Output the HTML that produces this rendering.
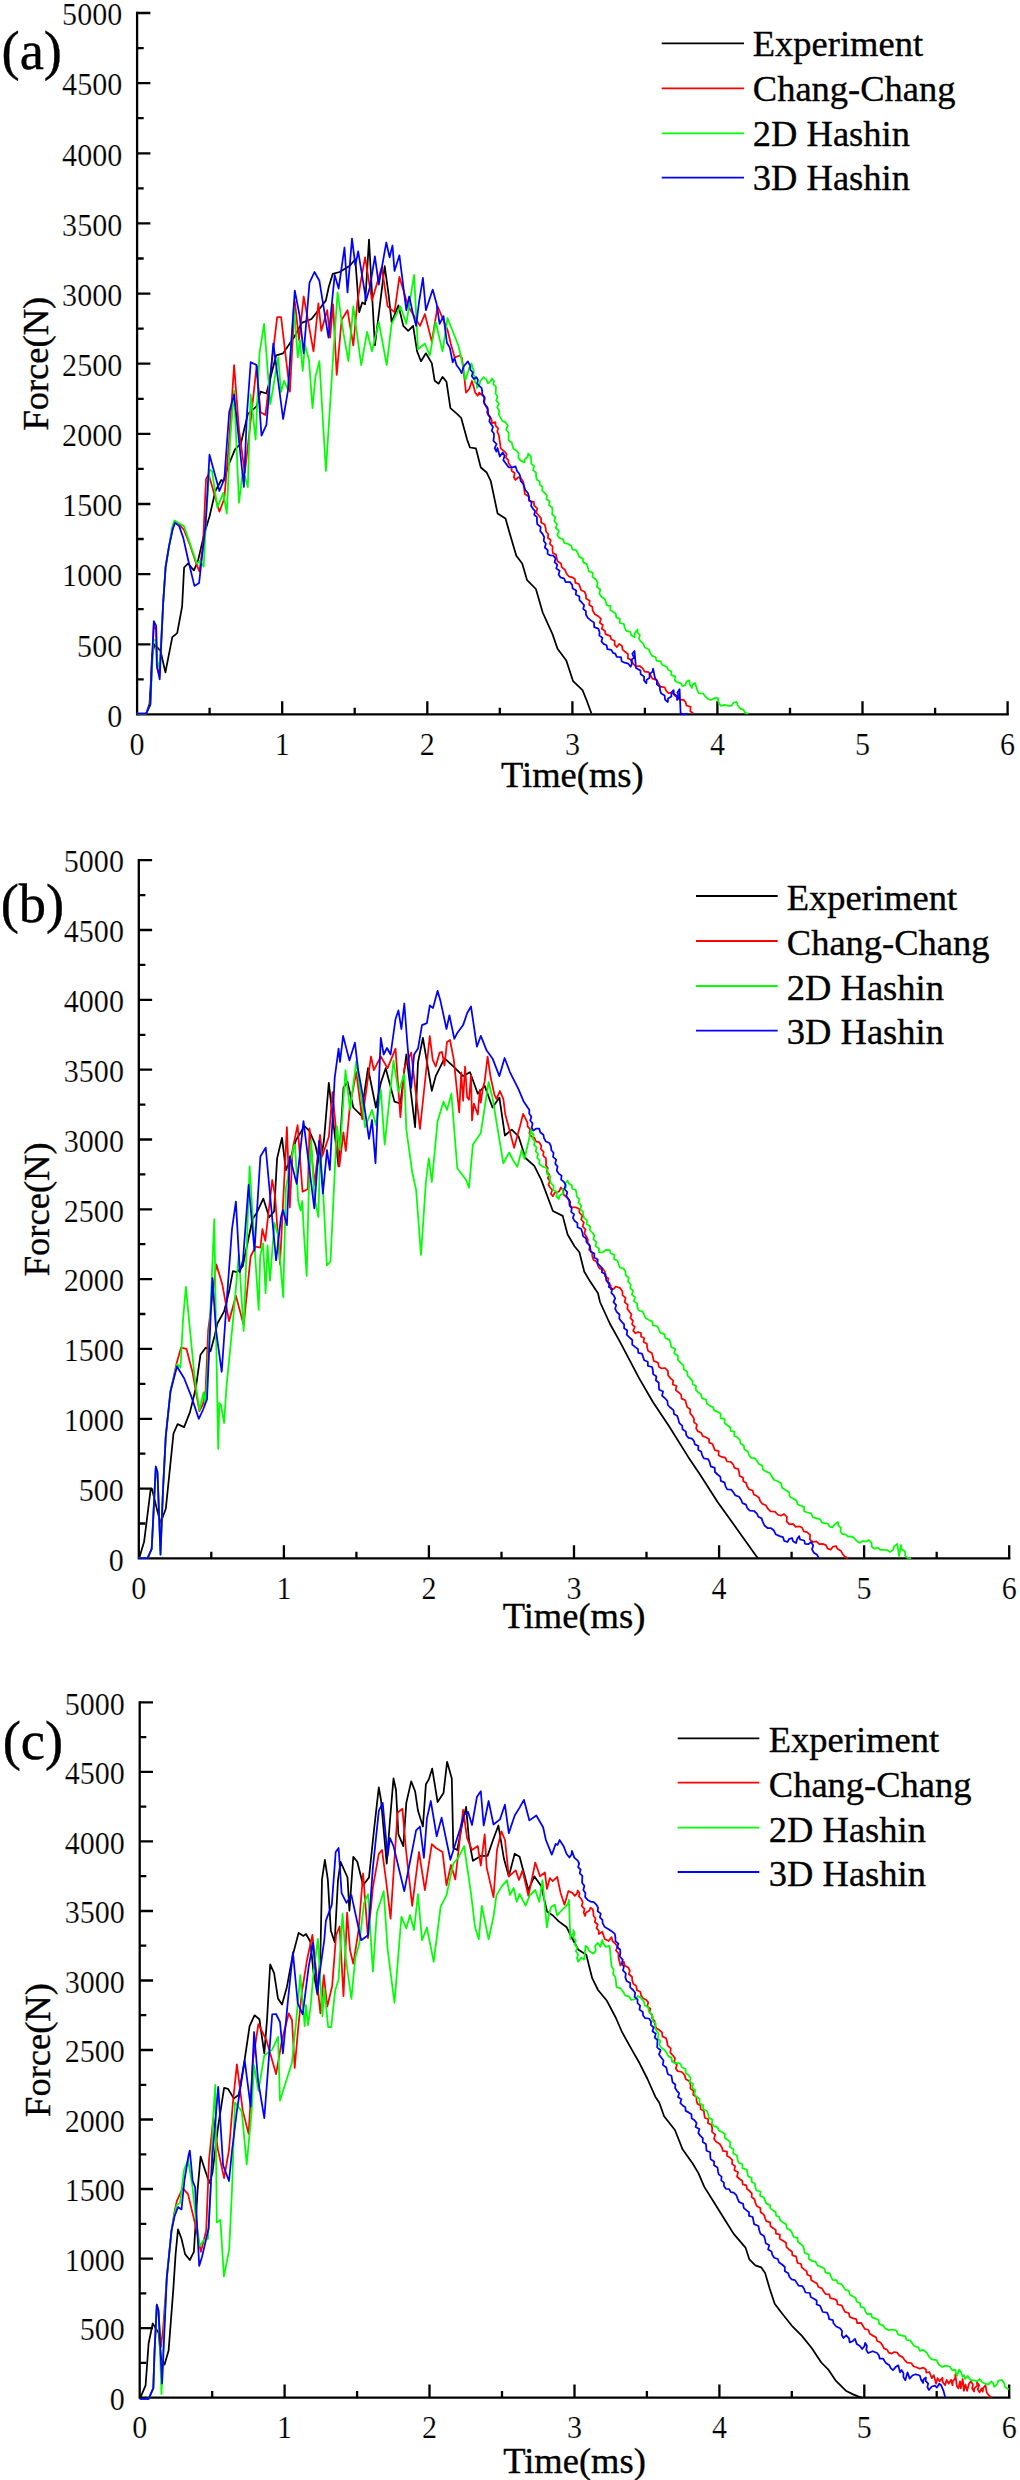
<!DOCTYPE html><html><head><meta charset="utf-8"><style>html,body{margin:0;padding:0;background:#fff;width:1020px;height:2480px;overflow:hidden}svg{display:block}text{font-family:"Liberation Serif", "Times New Roman", serif;fill:#000}</style></head><body>
<svg width="1020" height="2480" viewBox="0 0 1020 2480">
<g><path d="M137.1 11.8 V714.4 H1008.8" fill="none" stroke="#000" stroke-width="2.3" stroke-linejoin="miter" stroke-linecap="butt"/><path d="M137.1 679.3 H143.7 M137.1 644.3 H150.4 M137.1 609.2 H143.7 M137.1 574.1 H150.4 M137.1 539 H143.7 M137.1 504 H150.4 M137.1 468.9 H143.7 M137.1 433.8 H150.4 M137.1 398.8 H143.7 M137.1 363.7 H150.4 M137.1 328.6 H143.7 M137.1 293.6 H150.4 M137.1 258.5 H143.7 M137.1 223.4 H150.4 M137.1 188.4 H143.7 M137.1 153.3 H150.4 M137.1 118.2 H143.7 M137.1 83.1 H150.4 M137.1 48.1 H143.7 M137.1 13 H150.4 M209.6 714.4 V707.8 M282.2 714.4 V701.2 M354.7 714.4 V707.8 M427.3 714.4 V701.2 M499.8 714.4 V707.8 M572.4 714.4 V701.2 M644.9 714.4 V707.8 M717.4 714.4 V701.2 M790 714.4 V707.8 M862.5 714.4 V701.2 M935.1 714.4 V707.8 M1007.6 714.4 V701.2" fill="none" stroke="#000" stroke-width="2.3"/><text transform="translate(122.2 726.6) scale(0.97 1)" font-size="31" text-anchor="end" stroke="#fff" stroke-width="0.2">0</text><text transform="translate(122.2 656.5) scale(0.97 1)" font-size="31" text-anchor="end" stroke="#fff" stroke-width="0.2">500</text><text transform="translate(122.2 586.3) scale(0.97 1)" font-size="31" text-anchor="end" stroke="#fff" stroke-width="0.2">1000</text><text transform="translate(122.2 516.2) scale(0.97 1)" font-size="31" text-anchor="end" stroke="#fff" stroke-width="0.2">1500</text><text transform="translate(122.2 446) scale(0.97 1)" font-size="31" text-anchor="end" stroke="#fff" stroke-width="0.2">2000</text><text transform="translate(122.2 375.9) scale(0.97 1)" font-size="31" text-anchor="end" stroke="#fff" stroke-width="0.2">2500</text><text transform="translate(122.2 305.8) scale(0.97 1)" font-size="31" text-anchor="end" stroke="#fff" stroke-width="0.2">3000</text><text transform="translate(122.2 235.6) scale(0.97 1)" font-size="31" text-anchor="end" stroke="#fff" stroke-width="0.2">3500</text><text transform="translate(122.2 165.5) scale(0.97 1)" font-size="31" text-anchor="end" stroke="#fff" stroke-width="0.2">4000</text><text transform="translate(122.2 95.3) scale(0.97 1)" font-size="31" text-anchor="end" stroke="#fff" stroke-width="0.2">4500</text><text transform="translate(122.2 25.2) scale(0.97 1)" font-size="31" text-anchor="end" stroke="#fff" stroke-width="0.2">5000</text><text transform="translate(137.1 754.5) scale(0.97 1)" font-size="31" text-anchor="middle" stroke="#fff" stroke-width="0.2">0</text><text transform="translate(282.2 754.5) scale(0.97 1)" font-size="31" text-anchor="middle" stroke="#fff" stroke-width="0.2">1</text><text transform="translate(427.3 754.5) scale(0.97 1)" font-size="31" text-anchor="middle" stroke="#fff" stroke-width="0.2">2</text><text transform="translate(572.4 754.5) scale(0.97 1)" font-size="31" text-anchor="middle" stroke="#fff" stroke-width="0.2">3</text><text transform="translate(717.4 754.5) scale(0.97 1)" font-size="31" text-anchor="middle" stroke="#fff" stroke-width="0.2">4</text><text transform="translate(862.5 754.5) scale(0.97 1)" font-size="31" text-anchor="middle" stroke="#fff" stroke-width="0.2">5</text><text transform="translate(1007.6 754.5) scale(0.97 1)" font-size="31" text-anchor="middle" stroke="#fff" stroke-width="0.2">6</text><text x="572.4" y="786.5" font-size="36.5" text-anchor="middle" stroke="#000" stroke-width="0.35">Time(ms)</text><text transform="translate(48 363.7) rotate(-90)" font-size="36.5" text-anchor="middle" stroke="#000" stroke-width="0.35">Force(N)</text><text x="1.5" y="69.4" font-size="54.5" stroke="#000" stroke-width="0.4">(a)</text><line x1="661.7" y1="43.3" x2="744" y2="43.3" stroke="#000000" stroke-width="1.8"/><text x="752.8" y="55.8" font-size="36.5" stroke="#000" stroke-width="0.35">Experiment</text><line x1="661.7" y1="88.3" x2="744" y2="88.3" stroke="#ff0000" stroke-width="1.8"/><text x="752.8" y="100.8" font-size="36.5" stroke="#000" stroke-width="0.35">Chang-Chang</text><line x1="661.7" y1="133.3" x2="744" y2="133.3" stroke="#00ff00" stroke-width="1.8"/><text x="752.8" y="145.8" font-size="36.5" stroke="#000" stroke-width="0.35">2D Hashin</text><line x1="661.7" y1="177.7" x2="744" y2="177.7" stroke="#0000ff" stroke-width="1.8"/><text x="752.8" y="190.2" font-size="36.5" stroke="#000" stroke-width="0.35">3D Hashin</text><path d="M137 714.4 L146 714 L149.5 704 L151 680 L152 655 L154.6 644.5 L160.5 650.8 L165.4 672.4 L172.3 637.1 L177.2 633.1 L182.1 606.7 L184.1 567.5 L188 563.5 L193.9 570.4 L197.8 561.6 L203.7 536.1 L209.5 516.5 L215.4 491 L221.3 480 L223.3 481.2 L229.2 463.5 L235 449.4 L240.9 443.5 L247.8 414.1 L256.6 406.3 L260.5 391.6 L266.4 393.5 L276.2 355.3 L283.1 353.3 L293.9 337.6 L301.7 322.9 L311.5 319 L320 308.2 L325.9 300.4 L328.8 286.7 L332.7 273.9 L339.6 272 L349.4 266.1 L355.3 259.2 L359.2 312.2 L362.2 302.4 L365.1 304.3 L369 239.6 L374.9 345.5 L384.7 266.1 L388.6 294.5 L391.6 322 L398.4 305.3 L403.3 325.9 L408.2 330.8 L413.1 325.9 L417.1 351.4 L421 361.2 L425.9 353.3 L431.8 363.1 L434.7 380.8 L438.6 383.7 L442.5 376.9 L446.5 381.8 L450.4 408.2 L457.3 414.1 L461.2 418 L467.1 439.6 L470 447.5 L475.9 448.4 L480.8 467.5 L486.7 472.5 L490.8 481.2 L497.6 513.5 L505.5 518.4 L509.4 532.2 L516.3 555.7 L522.2 563.5 L527.1 580.2 L535.9 589 L542.7 612.5 L552.5 634.1 L557.5 648.8 L566.3 660.6 L573.1 681.2 L582.5 690.2 L586.5 700 L591.4 713.3" fill="none" stroke="#000000" stroke-width="1.75" stroke-linejoin="round"/><path d="M136.8 713.5 L146.2 713.5 L150.3 704.7 L151.5 673 L153.8 625 L156.2 630 L157 668 L159.5 676 L161 649 L163.2 602.4 L165.6 567 L169.1 545.9 L172.6 529.4 L175 521 L179.1 524 L184 530 L190 545 L196 563 L199.4 571.4 L203 545 L206 479.2 L208.6 474.3 L219.4 511.6 L224.3 498.8 L229.2 440 L234.1 365.1 L239 429.8 L244.8 472.9 L249.7 429.8 L256.6 366.1 L260.5 412.2 L265.4 415.1 L277.2 317.1 L281.1 317.1 L289.9 391.6 L294.8 301.4 L299 340 L303.7 296.5 L313.5 351.4 L318.4 303.3 L321.3 330.8 L327.2 310.2 L330.1 337.6 L333.1 304.3 L336.7 374.9 L341.6 320 L347.5 310.2 L353.3 345.5 L357.3 302.4 L361.2 278.8 L365.1 257.3 L372 300.4 L381.8 267.1 L387.6 306.3 L394.5 312.2 L399.4 276.9 L408.2 306.3 L420 325.9 L424.9 314.1 L431.8 341.6 L437.6 306.3 L447.5 329.8 L450.8 343.7 L454.7 357.5 L459.6 355.5 L462 358 L464.5 379 L466 392.7 L469.4 388.8 L471.9 381 L474.3 388.8 L475.2 392.6 L477.7 395.7 L479.2 392.7 L483.1 395.7 L484.8 399.1 L484 403.2 L486.1 406.5 L487.7 409.2 L487 412.7 L489 415.3 L491.4 418.9 L492 423.1 L495.4 422.2 L495.6 425.6 L498.1 428.3 L497.3 431.9 L498.8 434.9 L500.8 448.6 L504.7 451.6 L506.6 454.2 L506 457.7 L508.3 460.2 L508.6 463.3 L511.6 467.3 L511.6 470.8 L514.8 473.3 L513.8 477 L515.5 480 L518.4 477.1 L521.4 479 L523.3 482 L524.3 490 L524.8 494.1 L528.7 496.6 L529 500.8 L533.9 501.8 L534.1 505.6 L537.3 508.3 L536.2 512.6 L538.8 515.5 L541.1 518.4 L541.1 522.5 L544.7 524.6 L545.7 528.2 L546 531.5 L548.3 534.2 L547.8 537.7 L550.8 540.1 L549.8 543.9 L552.6 546.4 L552.5 549.8 L552.8 552.9 L556 554.6 L556.5 557.6 L557.5 561.3 L561 563.5 L561.8 567.4 L565 569.7 L566.3 573.3 L568.6 576.3 L572.2 577.3 L574.9 579.1 L575.4 582.8 L578.9 584 L580 587.1 L581.2 590.3 L584.6 591.8 L585.9 594.9 L586.1 598.6 L589.7 600.7 L589.2 604.7 L592.4 607 L592.7 610.6 L594.9 614.3 L598.6 616.5 L601 618.9 L599.7 622.8 L602.9 625 L601.8 628.8 L605 630.9 L605.5 634.1 L610.4 636.1 L611.2 639.3 L614.7 641 L614.6 644.7 L616.9 647.1 L619.2 643.9 L622 645.9 L622.6 649.6 L625.1 651.8 L628 654.1 L627.9 658.4 L631.9 660 L632.9 663.5 L635.6 666.4 L639.8 666 L642.7 668.4 L644.5 671.6 L648.7 672.1 L650.6 675.3 L652.4 678.7 L656.5 679.8 L658.4 683.1 L660.1 686.7 L664.7 687.4 L666.3 691 L668.4 693.2 L672 692.5 L674.1 694.9 L677.6 698 L679.9 699.9 L683.4 699.6 L685.5 702 L686.5 705.5 L690.6 706.8 L690.3 711.2 L693.3 713.3" fill="none" stroke="#ff0000" stroke-width="1.75" stroke-linejoin="round"/><path d="M136.8 713.5 L146.2 713.5 L150.3 704.7 L152 670 L153.5 640 L156 640 L157.4 668 L160 660 L163.2 602.4 L165.6 567 L169.1 545.9 L172 528 L174.3 520.4 L184.1 526.3 L196.8 563.5 L200 561 L203.7 566.5 L206 520 L209.5 469.4 L212 471 L217.4 507.6 L223.3 492.9 L226.8 513.5 L230.1 440 L234.1 390.6 L239 502.7 L243 470 L247.8 487.1 L250.7 394.5 L255.6 439.6 L259.5 353.3 L264.1 323.9 L270.3 404.3 L278.2 357.3 L281 392 L284.1 380.8 L288 390 L293.9 306.3 L297.8 357.3 L300 340 L302.7 371 L305 345 L309 360 L312.5 408.2 L315.4 376.9 L319.4 361.2 L325.9 471 L333.1 357.3 L337.6 292.5 L343.5 333.7 L348.4 361.2 L353.3 306.3 L361.2 365.1 L367.1 331.8 L372 351.4 L378.8 322 L386.7 365.1 L391.6 323.9 L400.4 306.3 L406.3 323.9 L414.1 274.9 L418 349.4 L424.9 343.5 L429.8 355.3 L435.7 322 L442.5 351.4 L447.5 318 L458.1 344.7 L460.6 354.5 L465.5 380 L469.4 367.3 L471.4 363.3 L473.8 371.2 L473.5 374.7 L475.7 377.7 L474.4 381.4 L476.9 384.4 L476.8 387.8 L479.5 384.9 L480.2 381 L483.6 377.1 L486.6 379.7 L488 383.4 L490.5 381.4 L492 378.5 L494 381 L493.3 384.4 L495.9 386.7 L495.9 389.8 L495.6 393.4 L497.4 396.7 L496.2 400.4 L498.9 403.6 L497.2 407.4 L499.2 410.7 L498.8 414.3 L500.8 418.2 L502.5 421.1 L505.7 422.2 L507.8 425.6 L506.1 429.8 L508.8 433 L508.6 436.9 L508.6 440.4 L511.8 442.5 L512.5 445.7 L513.5 449 L516.5 450.6 L518.6 453.5 L518.4 457.4 L520.4 460.4 L524.3 462.4 L524.9 459.1 L527.7 456.8 L528.2 453.5 L530.9 456.4 L531.2 460.4 L531.4 463.8 L534.2 466.3 L533 470.2 L536 472.7 L536.1 476.1 L536.6 479.4 L539.6 481.4 L539.8 484.8 L542.5 486.9 L542.2 490.6 L544.7 492.9 L546.9 495.5 L546.5 499.2 L549.6 501.3 L549 505.1 L552 507.3 L552.5 510.6 L552.1 514.3 L555.4 517.2 L554.3 521.1 L557 524 L555.8 528 L559 530.8 L557.3 534.9 L559.4 538 L562.8 539.2 L564.5 543.1 L568.2 543.9 L571.2 545.8 L572.4 549.5 L576.4 550.4 L578 553.7 L579.3 556.9 L582.8 558.6 L583.3 562.4 L586.8 564.1 L587.8 567.5 L588.7 571.1 L592.7 572.7 L592.6 577 L595.7 579.2 L597.7 582.5 L596.9 586.7 L600.3 589.5 L599.4 593.7 L601.6 596.9 L604.6 598.8 L606 602 L606.6 605.2 L610.6 606.1 L610.3 609.9 L612.9 611.8 L615.8 613.7 L616.3 617.4 L619.8 618.9 L619.8 623 L623.9 624 L624.7 627.5 L626.2 630.9 L630.2 631.8 L631.4 635.5 L634.5 637.3 L634.9 632.9 L637.5 629.4 L637.6 632.5 L639.9 635.1 L638.9 638.4 L640.4 641.2 L643.4 643.7 L644.8 647.5 L648.7 649.2 L650.2 652.9 L652 655.8 L655.5 657 L656.6 660.7 L660.6 661.4 L662 664.7 L666.9 666.7 L668.1 669.7 L671.3 671.4 L671.3 675.2 L675.2 676.4 L674.7 680.5 L677.6 682.4 L680.9 683.3 L682.5 686.3 L685.4 685 L686.5 681.6 L689.4 680.4 L689.8 684.5 L692 688 L692.3 684.8 L695 683 L697.3 690.2 L699 693.3 L703 693.5 L705.1 696.1 L707.6 698.7 L711 700 L714.2 698.2 L717.8 698 L718.5 702.2 L720.8 705.9 L724.7 704.9 L728.6 705.9 L731.7 705.6 L733.5 702.5 L736.5 702 L737.9 705.7 L740.4 708.8 L743.5 709.6 L745.1 712.9 L748.2 713.7" fill="none" stroke="#00ff00" stroke-width="1.75" stroke-linejoin="round"/><path d="M136.8 713.5 L146.2 713.5 L150.3 704.7 L151.5 673 L153.8 621.2 L156.2 625.9 L156.8 664.7 L159.7 679.4 L160.9 649.4 L163.2 602.4 L165.6 567 L169.1 545.9 L172.6 529.4 L175 522.9 L179.1 525.9 L183.2 537.6 L187.9 558.8 L194.4 585.9 L199.1 582.9 L205.6 524.3 L209.5 454.7 L219.4 491 L224.3 479.2 L229.2 412.2 L234.1 394.5 L243.9 487 L246.8 416 L250.7 362.2 L256.6 365.1 L261.5 435.7 L266.4 424.9 L273.3 343.5 L283.1 419 L288 390.6 L294.8 290.6 L299.7 316.1 L303.7 353.3 L309.5 282.7 L314.5 272 L319.4 280.8 L328.5 337.6 L334.7 274.9 L338.6 288.6 L344.5 247.5 L347.5 292.5 L352 238.6 L355.3 265.1 L358.2 251.4 L366.1 300.4 L370 286.7 L374.9 256.3 L378.8 284.7 L386.3 242.5 L389.6 257.3 L392.5 245.5 L394.5 271 L399.4 255.3 L406.3 310.2 L409.2 296.5 L413.1 314.1 L416.1 325.9 L419 302.4 L422.9 277.8 L425.9 310.2 L432.7 289.6 L436.7 304.3 L439.6 323.9 L443.5 316.1 L446.9 342.7 L449.8 347.6 L452.7 362.4 L454.5 358 L456.5 365 L459.6 369.2 L461.6 373.1 L464 366 L467.9 361.4 L470.4 366.3 L470.4 369.7 L472.8 372.5 L471.8 376.1 L473.8 379 L476.3 377.1 L477.9 379.8 L477.2 383.3 L479.2 385.9 L481.5 387.9 L482.2 390.8 L482.3 394.4 L484.7 397.4 L483.7 401.2 L485.1 404.5 L487.5 407.6 L488 411.4 L488.1 414.7 L490.2 417.6 L489.3 421.2 L491 424.1 L493 427 L491.7 430.7 L494 433.5 L493.9 436.9 L493.4 440.8 L496.6 444 L494.7 448.1 L496.4 451.6 L497.5 448 L499.8 456.5 L502.7 452.5 L504.6 455.8 L503.3 460.1 L505.7 463.3 L508.6 467.3 L512.5 467.3 L515.5 466.3 L517 471 L519.3 473.7 L520.4 477.1 L520.6 481 L523.3 483.9 L525.3 490 L527.9 493 L529 496.9 L529.3 500.1 L531.6 502.5 L531.1 506 L532.9 508.6 L535.1 511.1 L534.2 514.8 L537 517.1 L536.9 520.4 L537.3 524.3 L540.7 526.9 L540.2 531.1 L542.7 534.1 L544.2 537.2 L543.7 540.8 L545.9 543.7 L544.8 547.5 L547.7 550.2 L547.6 553.7 L550.3 555.5 L553.5 555.7 L555.6 558.4 L554.5 562.2 L557.3 564.7 L556.2 568.4 L559.6 570.8 L558.6 574.5 L560.4 577.3 L564 578.3 L565.7 582.1 L570 582 L572.2 585.1 L572.7 588.6 L576.2 590.5 L575.8 594.6 L579.4 596.5 L579.5 600.2 L582 602.7 L584.2 605.3 L583.2 608.8 L585.9 611.2 L585.9 614.5 L587.8 617.9 L590.8 620.4 L594 622.6 L594.2 627.1 L598.3 628.6 L599.6 632.2 L599.3 635.6 L602.4 637.8 L601.4 641.4 L603.5 643.9 L606.6 645.3 L607.4 649.2 L611.3 649.9 L612.9 652.9 L615.3 653.7 L616.7 656.9 L621 657.2 L621.6 661.2 L624.7 662.7 L628.3 663.7 L630.6 666.7 L632 663.7 L631 660.1 L634.1 657.6 L632.3 653.8 L634.5 651 L636 668 L640.4 670.6 L640.7 674.3 L644.1 676.6 L644 680.5 L646.3 683.3 L646.6 679.9 L649.6 677.7 L649.5 674.1 L652.4 671.9 L653.1 668.6 L655 678 L656.9 680.8 L656.9 684.4 L659.9 686.7 L660 690.2 L661.3 693.6 L664.6 695.6 L665.1 699.6 L667.8 702 L668.1 698.4 L671.4 696.4 L671.3 692.7 L673.7 690.2 L673.8 693.8 L677.2 696.3 L677 700 L679.1 696.7 L677.4 692.5 L679.6 689.2 L680.6 713.3 L684 714.4 L687.5 713.7" fill="none" stroke="#0000ff" stroke-width="1.75" stroke-linejoin="round"/></g>
<g><path d="M138.8 859.1 V1558.4 H1010.4" fill="none" stroke="#000" stroke-width="2.3" stroke-linejoin="miter" stroke-linecap="butt"/><path d="M138.8 1523.5 H145.4 M138.8 1488.6 H152.1 M138.8 1453.7 H145.4 M138.8 1418.8 H152.1 M138.8 1383.9 H145.4 M138.8 1348.9 H152.1 M138.8 1314 H145.4 M138.8 1279.1 H152.1 M138.8 1244.2 H145.4 M138.8 1209.3 H152.1 M138.8 1174.4 H145.4 M138.8 1139.5 H152.1 M138.8 1104.6 H145.4 M138.8 1069.7 H152.1 M138.8 1034.8 H145.4 M138.8 999.8 H152.1 M138.8 964.9 H145.4 M138.8 930 H152.1 M138.8 895.1 H145.4 M138.8 860.2 H152.1 M211.3 1558.4 V1551.8 M283.9 1558.4 V1545.2 M356.4 1558.4 V1551.8 M428.9 1558.4 V1545.2 M501.5 1558.4 V1551.8 M574 1558.4 V1545.2 M646.5 1558.4 V1551.8 M719.1 1558.4 V1545.2 M791.6 1558.4 V1551.8 M864.1 1558.4 V1545.2 M936.7 1558.4 V1551.8 M1009.2 1558.4 V1545.2" fill="none" stroke="#000" stroke-width="2.3"/><text transform="translate(123.9 1570.6) scale(0.97 1)" font-size="31" text-anchor="end" stroke="#fff" stroke-width="0.2">0</text><text transform="translate(123.9 1500.8) scale(0.97 1)" font-size="31" text-anchor="end" stroke="#fff" stroke-width="0.2">500</text><text transform="translate(123.9 1431) scale(0.97 1)" font-size="31" text-anchor="end" stroke="#fff" stroke-width="0.2">1000</text><text transform="translate(123.9 1361.1) scale(0.97 1)" font-size="31" text-anchor="end" stroke="#fff" stroke-width="0.2">1500</text><text transform="translate(123.9 1291.3) scale(0.97 1)" font-size="31" text-anchor="end" stroke="#fff" stroke-width="0.2">2000</text><text transform="translate(123.9 1221.5) scale(0.97 1)" font-size="31" text-anchor="end" stroke="#fff" stroke-width="0.2">2500</text><text transform="translate(123.9 1151.7) scale(0.97 1)" font-size="31" text-anchor="end" stroke="#fff" stroke-width="0.2">3000</text><text transform="translate(123.9 1081.9) scale(0.97 1)" font-size="31" text-anchor="end" stroke="#fff" stroke-width="0.2">3500</text><text transform="translate(123.9 1012) scale(0.97 1)" font-size="31" text-anchor="end" stroke="#fff" stroke-width="0.2">4000</text><text transform="translate(123.9 942.2) scale(0.97 1)" font-size="31" text-anchor="end" stroke="#fff" stroke-width="0.2">4500</text><text transform="translate(123.9 872.4) scale(0.97 1)" font-size="31" text-anchor="end" stroke="#fff" stroke-width="0.2">5000</text><text transform="translate(138.8 1598.5) scale(0.97 1)" font-size="31" text-anchor="middle" stroke="#fff" stroke-width="0.2">0</text><text transform="translate(283.9 1598.5) scale(0.97 1)" font-size="31" text-anchor="middle" stroke="#fff" stroke-width="0.2">1</text><text transform="translate(428.9 1598.5) scale(0.97 1)" font-size="31" text-anchor="middle" stroke="#fff" stroke-width="0.2">2</text><text transform="translate(574 1598.5) scale(0.97 1)" font-size="31" text-anchor="middle" stroke="#fff" stroke-width="0.2">3</text><text transform="translate(719.1 1598.5) scale(0.97 1)" font-size="31" text-anchor="middle" stroke="#fff" stroke-width="0.2">4</text><text transform="translate(864.1 1598.5) scale(0.97 1)" font-size="31" text-anchor="middle" stroke="#fff" stroke-width="0.2">5</text><text transform="translate(1009.2 1598.5) scale(0.97 1)" font-size="31" text-anchor="middle" stroke="#fff" stroke-width="0.2">6</text><text x="574" y="1627.9" font-size="36.5" text-anchor="middle" stroke="#000" stroke-width="0.35">Time(ms)</text><text transform="translate(48.5 1209.3) rotate(-90)" font-size="36.5" text-anchor="middle" stroke="#000" stroke-width="0.35">Force(N)</text><text x="0.7" y="921.6" font-size="54.5" stroke="#000" stroke-width="0.4">(b)</text><line x1="696" y1="896" x2="777.7" y2="896" stroke="#000000" stroke-width="1.8"/><text x="786.8" y="909.7" font-size="36.5" stroke="#000" stroke-width="0.35">Experiment</text><line x1="696" y1="941" x2="777.7" y2="941" stroke="#ff0000" stroke-width="1.8"/><text x="786.8" y="954.7" font-size="36.5" stroke="#000" stroke-width="0.35">Chang-Chang</text><line x1="696" y1="986" x2="777.7" y2="986" stroke="#00ff00" stroke-width="1.8"/><text x="786.8" y="999.7" font-size="36.5" stroke="#000" stroke-width="0.35">2D Hashin</text><line x1="696" y1="1030.7" x2="777.7" y2="1030.7" stroke="#0000ff" stroke-width="1.8"/><text x="786.8" y="1044.4" font-size="36.5" stroke="#000" stroke-width="0.35">3D Hashin</text><path d="M138.8 1558.4 L139.4 1557.6 L144.1 1541.8 L150.5 1490.6 L152 1489 L155.6 1503.9 L160.5 1523 L165.8 1508.8 L173.5 1433.5 L177.6 1424.1 L184.1 1427.1 L189.9 1412.4 L195.8 1388.2 L200.5 1354.7 L205.8 1347.6 L210.5 1351.2 L214.6 1335.9 L217.4 1323.5 L224.1 1311.4 L229 1291.8 L232.9 1271.2 L236.9 1272.2 L242.7 1266.3 L247.6 1242.7 L252.5 1219.2 L256.5 1213.3 L263.3 1198.6 L269.2 1217.3 L274.1 1211.4 L277.1 1158.4 L282 1137.8 L285.9 1170.2 L290 1160 L296 1140 L304.5 1126.1 L309.4 1131 L315.3 1144.7 L320 1166.3 L324 1140 L328.8 1082.9 L333 1120 L338.6 1166.3 L343.5 1087.8 L347.5 1082 L353.3 1107.5 L361.2 1115.3 L368 1068.2 L375.9 1107.5 L380.8 1082.9 L385.7 1068.2 L394.5 1101.6 L400.4 1103.5 L406.3 1054.5 L415.1 1127.1 L418 1062.4 L422.9 1037.8 L431.8 1090.8 L435.7 1076.1 L444.5 1058.4 L453.3 1066.3 L463.1 1076.1 L470 1072.2 L477.8 1093.7 L484.7 1085.9 L492.5 1107.5 L499.4 1097.6 L504.9 1135.5 L511.8 1129.6 L518.6 1136.5 L525.5 1158 L534.3 1165.9 L541.2 1179.6 L552.9 1211 L562.7 1215.9 L567.6 1234.5 L574.5 1246.3 L579.4 1252.2 L584.3 1271.8 L590.2 1281.6 L598 1293.3 L600 1302 L609.8 1323.5 L619.6 1341.2 L639.2 1378.4 L652.9 1402 L668.6 1425.5 L688.2 1456.9 L700 1474.5 L717.6 1502 L737.3 1529.4 L756.9 1556.9 L758 1558" fill="none" stroke="#000000" stroke-width="1.75" stroke-linejoin="round"/><path d="M138.8 1558.2 L147.6 1558.2 L151.7 1548.8 L155.8 1468 L157.5 1474 L160.5 1550 L163 1490 L165.8 1435.9 L170.5 1391.2 L176.4 1364.1 L181.1 1347.6 L186.4 1348.8 L192.3 1371.2 L199.4 1411.2 L203 1404 L205.6 1390.2 L208.2 1330 L212 1300 L216.3 1264.3 L222.2 1283.9 L229 1321.2 L235.9 1295.7 L243.7 1325.1 L250.6 1256.5 L255.5 1246.7 L260.4 1247.6 L262.4 1229 L265.3 1240.8 L272.2 1180 L275 1195 L280 1264.3 L286.9 1127.1 L289.8 1207.5 L292.7 1148.6 L297.6 1125.1 L302.5 1191.8 L307.9 1188.9 L309.5 1128.4 L314.4 1184.8 L320 1134.8 L322.4 1155.8 L328.9 1136.5 L332.5 1092.1 L339.4 1166.3 L343.4 1132.4 L345.8 1151 L349.8 1106.6 L356.3 1072.2 L362.2 1119.2 L371 1056.5 L373.9 1070.2 L380.8 1056.5 L387.6 1068.2 L395.5 1048.6 L400.4 1117.3 L404.3 1068.2 L411.2 1052.5 L420 1129 L429.8 1036 L432.7 1059.6 L435.7 1066.5 L439.6 1052.7 L442 1052 L444.5 1065.5 L447 1042 L450 1040 L453.8 1059.6 L459.2 1112.5 L461.2 1072.4 L463.1 1100.8 L465.1 1066.5 L467.1 1096.9 L469 1099.8 L471 1075.3 L472 1120.4 L473.9 1103.7 L477.8 1114.5 L479.8 1090 L480.8 1102.7 L482.7 1089 L484.7 1081.2 L487.6 1056.7 L490.6 1077.3 L494.5 1094.9 L496.5 1098.8 L499.9 1091 L503.3 1098.8 L505.3 1114.5 L508.2 1125.3 L514.1 1147.8 L520 1126.3 L523.1 1113.9 L527.5 1122.7 L527.6 1126.4 L530.2 1129.4 L529.3 1133.4 L531.4 1136.5 L534.4 1137.9 L535.9 1141.3 L539.2 1142.4 L541.2 1145.4 L540.9 1149.2 L543.6 1151.8 L543.2 1155.7 L545.9 1158.4 L546.1 1162 L545.9 1165.3 L547.8 1168.3 L546.6 1171.7 L549.4 1174.5 L547.8 1178 L549.8 1181 L548.4 1184.5 L550 1187.5 L552.3 1190 L550.9 1193.7 L552.9 1196.3 L554.8 1192.7 L559.2 1191.4 L560.8 1187.5 L563.3 1190.4 L563.6 1194.7 L566.7 1197.3 L569.1 1200.2 L569.3 1204.2 L571.6 1207.1 L575.7 1207.3 L579.4 1209 L579.4 1212.7 L582.4 1215.6 L581.2 1219.5 L583.9 1222.5 L582.6 1226.5 L585.5 1229.4 L584.4 1233.3 L586.3 1236.5 L587.9 1239.6 L587.6 1243.2 L590 1246.1 L589.1 1249.9 L592.2 1252.5 L592.2 1256.1 L593.4 1259.8 L597 1262.1 L598 1265.9 L599.6 1268.6 L603.2 1269.2 L604.9 1271.8 L604.8 1275.7 L608.4 1278.5 L607.6 1282.6 L610.7 1285.5 L610.8 1289.4 L613.8 1288.9 L615.7 1286.5 L619.9 1287.8 L622.5 1291.4 L622.5 1295.2 L625.6 1297.9 L624.6 1302.1 L627.8 1304.8 L627.3 1308.7 L629.4 1311.8 L631.5 1314.5 L630.4 1318.1 L632.9 1320.7 L632.1 1324.3 L634.8 1326.8 L633.2 1330.6 L635.3 1333.3 L638.1 1332 L641 1333 L641 1336.4 L644.3 1338.3 L643.5 1341.9 L646.9 1343.8 L647.1 1347.1 L648.1 1350.9 L651.8 1353.1 L652.9 1356.9 L653.7 1360.9 L658.1 1362.7 L658.8 1366.7 L661.7 1368.4 L665 1368 L667.9 1370.9 L668.1 1375.3 L670.6 1378.4 L673.2 1380.6 L672.7 1384.5 L676.6 1386 L675.7 1390.1 L678.4 1392.2 L681.1 1394.6 L681.6 1398.6 L685.3 1400.3 L686.3 1403.9 L687.2 1407.1 L690.2 1409.3 L690 1413.1 L692.2 1415.7 L694 1418.6 L693.9 1422.2 L696.9 1424.7 L696.1 1428.5 L698 1431.4 L701.1 1432.7 L702.7 1436.1 L705.9 1437.3 L708.9 1438.9 L709.3 1442.6 L712.5 1444 L713.7 1447.1 L714.8 1450.2 L718.7 1451.1 L718.6 1455.3 L721.6 1456.9 L725.3 1457.7 L727 1461.5 L730.9 1461.9 L733.3 1464.7 L734.5 1467.9 L738.3 1469.1 L739.2 1472.5 L739.5 1476 L743 1477.6 L743.3 1481.2 L746.2 1483.1 L747.1 1486.3 L749 1489.3 L752.7 1490.5 L753.7 1494.4 L756.9 1496.1 L759.2 1498 L760 1500.8 L762.2 1503.8 L765.9 1505.3 L767.8 1508.6 L770.6 1511.4 L774.9 1511.6 L777.6 1514.5 L780.9 1515.7 L784 1514 L786.9 1516.9 L786.7 1521.4 L789.4 1524.3 L792.9 1523.8 L795.7 1526.8 L799.2 1526.3 L802.2 1527.7 L803.6 1531.3 L807.1 1532.2 L810.1 1534.8 L809.8 1539.4 L812.9 1542 L816.4 1541.4 L819.3 1544.2 L822.7 1543.9 L825.9 1545.1 L827.5 1548.4 L830.6 1549.8 L832.6 1546.9 L836 1546 L837.6 1549 L840.8 1550.7 L842.4 1553.7 L844.8 1556.6 L848.2 1558.2" fill="none" stroke="#ff0000" stroke-width="1.75" stroke-linejoin="round"/><path d="M138.8 1558.2 L147.6 1558.2 L151.7 1548.8 L155.8 1466.5 L157.5 1472 L160.5 1554.7 L163 1490 L165.8 1435.9 L170.5 1391.2 L177 1364.1 L180.5 1367.6 L183 1320 L185.9 1286.9 L190 1330 L194.6 1377.1 L199.4 1410 L203.5 1392.4 L205 1405 L207 1380 L210 1320 L214.3 1219.2 L216 1330 L218.2 1448.8 L219.4 1403 L221 1405 L224.1 1423 L226.4 1387.6 L233.1 1319.6 L238.8 1254.5 L243.7 1331 L249.6 1166.3 L255.3 1258 L258.7 1310 L260.2 1256.1 L263.1 1243.3 L265.6 1293.3 L267.5 1245.3 L270 1280.6 L274.4 1222.7 L278 1235 L283.2 1297.3 L285.9 1187.8 L293.7 1146.7 L295 1144.5 L298.2 1201 L300.6 1210.6 L302.3 1201 L303.9 1233.2 L306.7 1276 L308.5 1200 L311.1 1140.5 L314.4 1197 L318.4 1217.1 L320.2 1148.5 L323.2 1192.9 L326.9 1265.5 L330.5 1261.5 L336.9 1126 L340 1150 L343.4 1100.2 L345.5 1070.2 L350 1110 L356.3 1061.4 L365.1 1127.1 L372 1110 L376 1125 L380.8 1089.8 L384.7 1144.7 L393.5 1060.4 L398.4 1091.8 L404.3 1074.1 L406.3 1129 L412.2 1172.2 L416.1 1189.8 L421 1255 L425.9 1182 L428.8 1158.4 L431.8 1182 L437.6 1121.2 L443.5 1101.6 L447 1110 L451.4 1093.7 L457.3 1168.2 L466.1 1180 L469 1187.8 L472.9 1144.7 L480.8 1132.9 L488.6 1082 L492.5 1097.6 L503.3 1163.3 L509.2 1152.5 L513 1160 L517.3 1166.9 L521.6 1150.2 L524.5 1159 L531.4 1128.6 L531.2 1132 L533.6 1134.9 L532.4 1138.5 L534.9 1141.3 L533.9 1144.9 L536.6 1147.7 L535.7 1151.2 L538.1 1154 L537.1 1157.6 L539.5 1160.5 L539.2 1163.9 L542.3 1166.4 L546.1 1167.8 L547.7 1170.5 L547.1 1174 L550.3 1176.2 L550 1179.6 L550.8 1183.2 L553.7 1185.8 L553.3 1189.9 L557.2 1192.1 L556.3 1196.4 L558.8 1199.2 L559.4 1195.7 L563 1193.6 L562.6 1189.6 L565.9 1187.4 L565.3 1183.3 L567.6 1180.6 L568.8 1183.6 L571.8 1185.3 L572.2 1188.7 L575.8 1190 L576.5 1193.3 L576.7 1196.6 L579.5 1199.1 L578.3 1202.9 L581.3 1205.4 L580.3 1209.1 L583 1211.6 L583.3 1214.9 L584.2 1218.1 L587 1220.4 L586.7 1224.2 L590.1 1226.2 L589.9 1230 L592.2 1232.5 L594.4 1235.4 L593.5 1239.4 L596.4 1242.1 L595.5 1246.1 L599 1248.5 L599 1252.2 L602.8 1252.4 L606 1249.8 L609.8 1250.2 L610.7 1253.5 L614.5 1254.9 L614 1259.1 L617.6 1260.7 L618.6 1263.9 L619.8 1267.5 L623.7 1268.7 L625.5 1271.8 L625.6 1275.3 L628.8 1277.8 L628 1281.7 L630.8 1284.3 L630.2 1288.1 L633.1 1290.7 L631.8 1294.7 L635.1 1297.1 L633.9 1301.1 L637.1 1303.6 L637.3 1307.1 L638.7 1310.5 L642.7 1311.6 L644.1 1314.9 L645.7 1318.2 L649 1320 L652.2 1321.6 L653 1325.7 L657.3 1326 L658.8 1329.4 L660.4 1332.8 L664.4 1334.1 L665.4 1338.1 L669.2 1339.6 L670.6 1343.1 L671.2 1346.9 L675.2 1349 L674.3 1353.5 L677.9 1355.8 L677.9 1359.9 L680.4 1362.7 L683.4 1365.2 L683.8 1369.3 L687.1 1371.6 L687.6 1375.7 L690.2 1378.4 L692.4 1380.8 L692.7 1384.3 L696 1386.1 L695.8 1389.8 L698 1392.2 L701 1394.4 L702 1398.3 L706.1 1399.5 L706.9 1403.6 L709.8 1405.9 L713 1407.1 L714.3 1410.7 L717.6 1411.8 L720.7 1413.7 L720.5 1418.1 L724.6 1419.2 L724.8 1423.3 L727.5 1425.5 L730.2 1427.2 L730.7 1430.8 L734.4 1431.7 L734.2 1435.9 L737.3 1437.3 L739.9 1439.8 L740.6 1443.6 L743.8 1445.6 L744.4 1449.5 L747.9 1451.4 L749 1454.9 L751 1457.8 L754.8 1458.2 L756.9 1460.8 L758.7 1463.9 L762.1 1465.5 L762.9 1469.4 L765.9 1471.4 L769.6 1473 L771.8 1476.3 L773.8 1479.8 L777.6 1481.2 L781.1 1483.3 L782.1 1487.8 L785.5 1490 L789 1492.2 L789.8 1496.7 L793.3 1498.8 L796.4 1500.6 L797.7 1504.4 L801.2 1505.7 L804.1 1507.1 L804.1 1511.1 L807.1 1512.5 L811 1513.4 L813.1 1517.3 L816.9 1518.4 L820 1519.2 L821.7 1522.3 L824.7 1523.3 L827.8 1523.6 L829.6 1526.6 L832.5 1527.3 L834.8 1524.2 L838 1522 L838.3 1525.3 L840.9 1527.8 L840.4 1531.4 L842.4 1534.1 L845.5 1534.4 L848.1 1536.6 L851.4 1536.3 L854.1 1538 L856.6 1541 L860 1542.9 L862.6 1541 L866.1 1541.6 L868.8 1540 L871.6 1542.9 L871.8 1546.9 L874.4 1548.7 L877.8 1547.6 L880.4 1549.9 L883.5 1549.8 L887 1550 L890 1552 L893.1 1549.9 L894.3 1546.1 L897.3 1543.9 L899 1556 L901 1545 L901.1 1549 L905.1 1551.6 L905.1 1555.7 L907.7 1557.9 L911 1558.2" fill="none" stroke="#00ff00" stroke-width="1.75" stroke-linejoin="round"/><path d="M138.8 1558.2 L147.6 1558.2 L151.7 1548.8 L155.8 1466.5 L157.5 1472 L160.5 1554.7 L163 1490 L165.8 1435.9 L170.5 1391.2 L177 1366.5 L184.1 1378.2 L191.1 1395.9 L198.8 1418.8 L202.9 1410 L207 1399.4 L210.5 1320 L212.4 1278 L216 1330 L221.7 1371.8 L227.1 1295.7 L232 1229 L235.9 1201.6 L239.8 1272.2 L243 1260 L248.6 1184.9 L254.5 1250.6 L260.4 1156.5 L265.7 1147.6 L276.1 1260.4 L281 1217.3 L283 1210 L286.9 1225.1 L289.8 1156.5 L296.7 1183.9 L303.5 1121.2 L314.3 1208.4 L319.2 1140.8 L322.9 1193.7 L327 1150 L329.8 1170 L334.7 1078 L338.6 1048.6 L340 1062 L343.1 1035.9 L349.4 1060.4 L354.9 1042.7 L358.2 1070.2 L363.1 1097.6 L369 1138.8 L372 1120 L375.5 1163.3 L380.8 1037.8 L383.7 1054.5 L387 1048 L390.6 1054.5 L395.5 1019.2 L398.4 1010.4 L401.4 1029 L404.3 1003.5 L407.3 1042.7 L411.2 1087.8 L414.1 1054.5 L418 1048.6 L422 1025.1 L426.9 1023.1 L429.8 1005.5 L433 1008 L437.6 990.8 L440.6 1001.6 L446.5 1029 L449.4 1015.3 L454.3 1038.8 L457.3 1032.9 L463.1 1025.1 L467.1 1013.3 L471 1006.5 L476.9 1046.7 L480.8 1035.9 L486.7 1050.6 L492.5 1058.4 L499.4 1076.1 L504.6 1058 L509.8 1071.8 L518.6 1089.4 L523.5 1101.2 L529.4 1110 L529.2 1113.6 L531.4 1116.7 L530.2 1120.5 L532.7 1123.6 L531.6 1127.4 L533.3 1130.6 L535.9 1128.7 L539.2 1128.6 L540.2 1132.2 L543.4 1134.7 L544.1 1138.4 L545.9 1141.5 L549.4 1143 L551 1146.3 L551.3 1149.9 L553.6 1153 L553 1156.8 L556.2 1159.6 L555.2 1163.6 L557.6 1166.6 L556.7 1170.6 L558.8 1173.7 L561.6 1175.6 L561.1 1179.6 L563.7 1181.6 L565.6 1184.9 L564.3 1189 L567.3 1192 L566.3 1196 L568.6 1199.2 L570.3 1202.1 L569.6 1205.6 L571.8 1208.3 L571.1 1211.8 L574.1 1214.3 L572.9 1217.9 L574.5 1220.8 L577.4 1223.1 L577.5 1227.3 L581.2 1229 L582.4 1232.5 L583 1236.1 L586.1 1238.5 L586.5 1242.2 L589.4 1244.7 L590.2 1248.2 L590.8 1251.7 L594.3 1253.6 L594.3 1257.5 L597.7 1259.5 L597.5 1263.4 L600 1265.9 L602.3 1268.4 L601.8 1272.3 L605.5 1274.1 L605.9 1277.6 L606.4 1280.9 L609.5 1283.1 L608.8 1286.9 L612.3 1288.8 L611.3 1292.9 L613.7 1295.3 L615.2 1298.4 L613.5 1302.2 L616.2 1305.1 L615.1 1308.7 L616.7 1311.8 L619.5 1314.5 L619.3 1318.7 L621.6 1321.6 L624.1 1324.3 L624.1 1328.2 L627.3 1330.5 L626.7 1334.7 L629.4 1337.3 L632.3 1340 L632.2 1344.5 L635.3 1347.1 L637.9 1349 L638.3 1352.8 L642 1353.7 L643.1 1356.9 L644.2 1360.3 L647.8 1361.8 L647.9 1365.9 L652.1 1367 L652.9 1370.6 L653.1 1374.1 L656.4 1376.5 L655.8 1380.3 L658.8 1382.7 L658.8 1386.3 L659.2 1389.8 L663.1 1391.5 L662 1395.7 L664.7 1398 L667.4 1400.8 L667.8 1405 L670.6 1407.8 L673.5 1410.1 L674 1414.1 L677.3 1416.1 L678.4 1419.6 L679.3 1423.1 L682.2 1425.6 L682.5 1429.3 L685.9 1431.6 L686.3 1435.3 L688.5 1437.9 L692 1438.6 L694.1 1441.2 L694.8 1444.4 L698.4 1446 L698.2 1449.8 L701.3 1451.7 L702 1454.9 L703.8 1458.3 L708.2 1459.1 L709.8 1462.7 L710.7 1466.4 L714.8 1467.9 L714.9 1472 L717.6 1474.5 L720.4 1476.9 L720.8 1480.9 L724.7 1482.6 L725.5 1486.3 L727.2 1489.4 L731.2 1489.6 L733.3 1492.2 L735.4 1495.4 L739.1 1496.8 L741.2 1500 L742.5 1503.1 L746 1504.6 L747.1 1507.8 L749.8 1510.7 L754.1 1511 L756.9 1513.7 L758.3 1516.7 L761.6 1518.4 L762.7 1521.6 L764.5 1525.5 L767.8 1528.2 L771.1 1528.2 L773.7 1530.2 L775.6 1534.2 L779.6 1536.1 L783 1537.1 L784.2 1540.9 L787.5 1542 L789 1539.1 L792 1538 L793.1 1541.3 L796.1 1543.1 L797 1539.3 L799.2 1536.1 L800.1 1539.5 L804.2 1540.5 L805.1 1543.9 L808.5 1544.2 L811 1542 L813.2 1545.2 L812 1549.4 L813.9 1552.7 L817.1 1554.8 L818.8 1558.2" fill="none" stroke="#0000ff" stroke-width="1.75" stroke-linejoin="round"/></g>
<g><path d="M139.7 1701.2 V2397.6 H1010.4" fill="none" stroke="#000" stroke-width="2.3" stroke-linejoin="miter" stroke-linecap="butt"/><path d="M139.7 2362.8 H146.3 M139.7 2328.1 H153 M139.7 2293.3 H146.3 M139.7 2258.6 H153 M139.7 2223.8 H146.3 M139.7 2189 H153 M139.7 2154.3 H146.3 M139.7 2119.5 H153 M139.7 2084.8 H146.3 M139.7 2050 H153 M139.7 2015.2 H146.3 M139.7 1980.5 H153 M139.7 1945.7 H146.3 M139.7 1911 H153 M139.7 1876.2 H146.3 M139.7 1841.4 H153 M139.7 1806.7 H146.3 M139.7 1771.9 H153 M139.7 1737.2 H146.3 M139.7 1702.4 H153 M212.2 2397.6 V2391 M284.6 2397.6 V2384.4 M357.1 2397.6 V2391 M429.5 2397.6 V2384.4 M502 2397.6 V2391 M574.5 2397.6 V2384.4 M646.9 2397.6 V2391 M719.4 2397.6 V2384.4 M791.8 2397.6 V2391 M864.3 2397.6 V2384.4 M936.7 2397.6 V2391 M1009.2 2397.6 V2384.4" fill="none" stroke="#000" stroke-width="2.3"/><text transform="translate(124.8 2409.8) scale(0.97 1)" font-size="31" text-anchor="end" stroke="#fff" stroke-width="0.2">0</text><text transform="translate(124.8 2340.3) scale(0.97 1)" font-size="31" text-anchor="end" stroke="#fff" stroke-width="0.2">500</text><text transform="translate(124.8 2270.8) scale(0.97 1)" font-size="31" text-anchor="end" stroke="#fff" stroke-width="0.2">1000</text><text transform="translate(124.8 2201.2) scale(0.97 1)" font-size="31" text-anchor="end" stroke="#fff" stroke-width="0.2">1500</text><text transform="translate(124.8 2131.7) scale(0.97 1)" font-size="31" text-anchor="end" stroke="#fff" stroke-width="0.2">2000</text><text transform="translate(124.8 2062.2) scale(0.97 1)" font-size="31" text-anchor="end" stroke="#fff" stroke-width="0.2">2500</text><text transform="translate(124.8 1992.7) scale(0.97 1)" font-size="31" text-anchor="end" stroke="#fff" stroke-width="0.2">3000</text><text transform="translate(124.8 1923.2) scale(0.97 1)" font-size="31" text-anchor="end" stroke="#fff" stroke-width="0.2">3500</text><text transform="translate(124.8 1853.6) scale(0.97 1)" font-size="31" text-anchor="end" stroke="#fff" stroke-width="0.2">4000</text><text transform="translate(124.8 1784.1) scale(0.97 1)" font-size="31" text-anchor="end" stroke="#fff" stroke-width="0.2">4500</text><text transform="translate(124.8 1714.6) scale(0.97 1)" font-size="31" text-anchor="end" stroke="#fff" stroke-width="0.2">5000</text><text transform="translate(139.7 2437.7) scale(0.97 1)" font-size="31" text-anchor="middle" stroke="#fff" stroke-width="0.2">0</text><text transform="translate(284.6 2437.7) scale(0.97 1)" font-size="31" text-anchor="middle" stroke="#fff" stroke-width="0.2">1</text><text transform="translate(429.5 2437.7) scale(0.97 1)" font-size="31" text-anchor="middle" stroke="#fff" stroke-width="0.2">2</text><text transform="translate(574.5 2437.7) scale(0.97 1)" font-size="31" text-anchor="middle" stroke="#fff" stroke-width="0.2">3</text><text transform="translate(719.4 2437.7) scale(0.97 1)" font-size="31" text-anchor="middle" stroke="#fff" stroke-width="0.2">4</text><text transform="translate(864.3 2437.7) scale(0.97 1)" font-size="31" text-anchor="middle" stroke="#fff" stroke-width="0.2">5</text><text transform="translate(1009.2 2437.7) scale(0.97 1)" font-size="31" text-anchor="middle" stroke="#fff" stroke-width="0.2">6</text><text x="574.5" y="2472.6" font-size="36.5" text-anchor="middle" stroke="#000" stroke-width="0.35">Time(ms)</text><text transform="translate(49.5 2050) rotate(-90)" font-size="36.5" text-anchor="middle" stroke="#000" stroke-width="0.35">Force(N)</text><text x="2.7" y="1758.6" font-size="54.5" stroke="#000" stroke-width="0.4">(c)</text><line x1="677.7" y1="1738.3" x2="759.3" y2="1738.3" stroke="#000000" stroke-width="1.8"/><text x="768.8" y="1752.2" font-size="36.5" stroke="#000" stroke-width="0.35">Experiment</text><line x1="677.7" y1="1782.7" x2="759.3" y2="1782.7" stroke="#ff0000" stroke-width="1.8"/><text x="768.8" y="1796.6" font-size="36.5" stroke="#000" stroke-width="0.35">Chang-Chang</text><line x1="677.7" y1="1827.7" x2="759.3" y2="1827.7" stroke="#00ff00" stroke-width="1.8"/><text x="768.8" y="1841.6" font-size="36.5" stroke="#000" stroke-width="0.35">2D Hashin</text><line x1="677.7" y1="1872" x2="759.3" y2="1872" stroke="#0000ff" stroke-width="1.8"/><text x="768.8" y="1885.9" font-size="36.5" stroke="#000" stroke-width="0.35">3D Hashin</text><path d="M139.7 2397.6 L140.4 2397.6 L145.6 2385.3 L148.6 2343.5 L152.7 2323.5 L158.6 2332.9 L160.9 2357.6 L164.5 2364.7 L168.6 2350.6 L173.3 2289.4 L175.6 2254.1 L178 2229.4 L181.5 2238.8 L185.1 2254.1 L189.8 2260 L193.9 2251.8 L197.6 2190 L200.6 2156.5 L205 2170 L209.4 2182.9 L212.4 2173.1 L218.2 2126 L224.1 2087.8 L228 2088.8 L233.9 2098.6 L238.8 2094.7 L244.7 2059.4 L249.6 2026.1 L254.5 2015.3 L259.4 2019.2 L264.3 2053.5 L267 2020 L270.2 1964.3 L274.1 1973.1 L278 1998.6 L282 2004.5 L286.9 1986.9 L292.7 1955.5 L298.6 1932.9 L303.5 1935.9 L306 1934 L310.4 1941.8 L313.5 1972.2 L317.5 1994.7 L320.4 1955 L322 1879.4 L324.9 1859.8 L327.8 1879.4 L330.8 1930.4 L334.7 1942.2 L338 1880 L340.6 1861.8 L347.5 1877.5 L349.4 1910.8 L353.3 1856.9 L357.3 1861.8 L363.1 1885.3 L369 1877.5 L374 1830 L378.8 1787.3 L381 1800 L386.7 1863.7 L390 1820 L393.5 1778.4 L396 1790 L398.4 1834.3 L403.3 1846.1 L406.3 1802.9 L411.2 1781.4 L415.1 1791.2 L418 1810.8 L422.9 1826.5 L425.9 1784.3 L428.8 1779.4 L432.2 1768.6 L437.6 1802 L443.5 1793.1 L447.1 1761.8 L451.8 1778.4 L453.3 1848 L457.3 1850 L462 1825 L466.1 1806.9 L469 1840 L472.9 1860.8 L480.8 1855.9 L487.6 1855.9 L493 1840 L498.4 1825.5 L500 1835.1 L503.9 1858.6 L508.8 1876.3 L514.7 1853.7 L519.6 1856.7 L528.4 1890 L534.3 1876.3 L541.2 1886.1 L547.1 1911.6 L552.9 1915.5 L558.8 1921.4 L566.7 1927.3 L572.5 1939 L578.4 1949.8 L586.3 1954.7 L592.2 1978.2 L598 1990 L606.9 2000.8 L615.7 2017.5 L622 2032 L631.8 2049.6 L639.6 2063.3 L647.5 2079 L655.3 2096.7 L659.2 2102.5 L664.1 2116.3 L674.9 2130 L678.8 2139.8 L682.7 2149.6 L692.5 2163.3 L698.4 2173.1 L704.3 2186.9 L714.1 2202.5 L723.9 2218.2 L733.7 2233.9 L745.5 2247.6 L749.4 2259.4 L755.3 2265.3 L761.2 2267.3 L765.1 2273.1 L769.8 2289 L774.7 2303.7 L782.1 2313.5 L791.9 2325.8 L801.7 2335.6 L811.5 2347.8 L821.3 2362.5 L828.6 2369.9 L836 2380.9 L845.8 2390.7 L853.1 2394.4 L858 2396.4 L862 2397.6" fill="none" stroke="#000000" stroke-width="1.75" stroke-linejoin="round"/><path d="M139.8 2398.8 L148.6 2398.8 L153.3 2388.2 L154.5 2353 L156.8 2304.7 L158.5 2312 L160.9 2347 L163 2330 L166.8 2277.6 L171.5 2230.6 L174.5 2212 L176.8 2201.2 L182.7 2188.2 L188 2194.1 L195.6 2225.9 L200.9 2251.8 L206.2 2230.6 L209 2160 L213.3 2118.2 L218 2150 L224.1 2178 L229 2150 L232.9 2102.5 L236.9 2064.3 L242.7 2110.4 L248.6 2133.9 L253 2060 L258.4 2024.1 L266.3 2039.8 L276.1 2074.1 L282 2040 L288.8 2013.3 L292 2020 L294.7 2068 L298 2030 L301.8 1992.7 L307 1960 L312.4 1934.9 L316 1970 L320.4 2013.3 L323.8 1975.1 L327.3 2006.5 L332.2 1985.9 L336.1 1935 L339.6 1926.5 L343.5 1996.1 L347.1 1912.7 L350 1950 L353.3 1963.7 L358.6 1930 L363.1 1873.5 L368 1938.2 L372.9 1887.3 L378.8 1853.9 L382 1850 L386 1880 L390.6 1918.6 L397.5 1812.7 L402.4 1808.8 L406 1850 L412.2 1905.9 L419 1852 L424.9 1890.2 L431.8 1844.1 L436 1848 L442.5 1852 L446.5 1885.3 L451 1865 L455.3 1879.4 L463.1 1809.8 L467.1 1838.2 L472 1850 L477.8 1846.1 L480.8 1865.7 L484.7 1834.3 L486.7 1867.6 L493.5 1897.1 L497 1850 L501.4 1831.4 L505 1840 L508.8 1876.3 L515.7 1870.4 L519 1880 L522.5 1870.4 L528.4 1895.9 L535.3 1862.5 L540 1876.3 L544.9 1872.4 L546.9 1889 L549.8 1878.2 L552.7 1881.2 L557.2 1876.8 L560.6 1892.9 L564.5 1904.7 L568.4 1891 L572.4 1892.9 L574.8 1895.9 L577 1893.6 L577.7 1890.5 L579.6 1893 L578.9 1896.5 L581.2 1898.8 L582.7 1902.1 L581.7 1905.9 L584.5 1908.9 L583.7 1912.7 L585.1 1916 L586 1912.6 L589.3 1910.8 L590.5 1907.6 L592.8 1909.5 L593.4 1912.5 L593.5 1915.8 L595.6 1918.5 L594.8 1922 L597.8 1924.5 L596.5 1928.1 L598.8 1930.8 L598.8 1934.1 L602.3 1931.7 L604.7 1939 L608.6 1941 L611.6 1937.1 L612.5 1941.1 L615.5 1943.9 L617.6 1946.8 L615.9 1950.5 L618.6 1953.3 L618.4 1956.7 L620.4 1965.5 L623.8 1961.6 L624.8 1965.4 L628.2 1967.5 L629.8 1970.5 L628.9 1974.3 L632 1976.8 L632.2 1980.2 L633.3 1983.7 L636.4 1986.1 L636.8 1990.1 L640.5 1992.1 L641.2 1995.9 L643.2 1998.5 L646.1 1999.8 L648.3 2002.5 L647.2 2006.3 L650.3 2008.7 L649.5 2012.4 L652.2 2014.9 L652.1 2018.4 L654.6 2021 L654.9 2024.3 L656.1 2027.9 L659.2 2030 L662 2032.4 L662.4 2036.4 L666.1 2038.2 L667.1 2041.8 L667.6 2045.6 L670.8 2048.3 L670.3 2052.6 L672.9 2055.5 L675 2058.3 L674.1 2062 L676.9 2064.6 L675.8 2068.4 L677.8 2071.2 L681.9 2072 L684.7 2075.1 L685.6 2079 L689.4 2081.2 L690.6 2084.9 L690.4 2088.6 L693.6 2090.9 L693.2 2094.7 L696.5 2097 L696.5 2100.6 L697.4 2103.7 L700.5 2105.6 L700.6 2109.1 L703.8 2111 L704.3 2114.3 L704.8 2117.7 L708.4 2119.2 L707.9 2123.2 L711.4 2124.8 L712.2 2128 L712 2131.8 L715.2 2134.6 L714 2138.7 L716.1 2141.8 L719.8 2144 L722 2147.6 L722.9 2150.9 L727 2151.7 L727 2155.7 L729.8 2157.5 L732.3 2160.1 L732 2163.9 L735.1 2166.2 L734.3 2170.3 L738.1 2172.2 L737 2176.5 L739.6 2179 L742.2 2180.8 L742.8 2184.3 L746.4 2185.3 L746.9 2188.9 L749.4 2190.8 L751.8 2193.3 L751.7 2197 L754.5 2199.2 L755.3 2202.5 L756.7 2206 L760.3 2208.1 L760.6 2212.3 L763.9 2214.6 L765.1 2218.2 L766.3 2221.2 L770.1 2222.3 L770.4 2226 L772.9 2228 L775.7 2229.9 L776 2233.7 L779.9 2234.7 L779.7 2238.8 L782.7 2240.5 L786 2242.8 L786.5 2247.2 L789.4 2249.8 L792 2251.7 L792.4 2255.3 L796 2256.3 L796.8 2259.6 L797.5 2262.9 L801.1 2264 L801.7 2267.4 L804.1 2269.4 L806.7 2271.3 L807.4 2274.8 L810.8 2276.1 L811.1 2279.9 L813.9 2281.7 L817 2283.5 L818.4 2287 L821.9 2288.4 L823.7 2291.5 L825.6 2294.1 L829.3 2294.3 L830.2 2298.1 L833.5 2298.8 L836.8 2300.4 L837.6 2304.5 L841.7 2305.3 L843.3 2308.6 L844.9 2311.9 L848.7 2313 L849.7 2316.9 L853.1 2318.4 L856.3 2319.2 L857.2 2323.2 L861.2 2322.9 L862.9 2325.8 L864.7 2328.9 L868.5 2330 L869.7 2333.7 L872.7 2335.6 L876 2337.2 L877.1 2341 L880.5 2342.5 L882.5 2345.4 L884 2348.4 L887.2 2349.8 L888.7 2352.7 L891.6 2353.6 L894.4 2352 L897.3 2352.7 L899.3 2355.6 L902.7 2357.1 L904.6 2360.1 L907.3 2362.6 L911.2 2363 L913.5 2366.2 L916.9 2367.5 L920 2368.8 L923.1 2367.6 L925.9 2369.4 L926.3 2372.7 L929.4 2372 L931.8 2378.2 L933.7 2375.1 L936.1 2383.7 L937.6 2378.2 L939.6 2381.4 L942.4 2377.8 L942.7 2381.9 L945.1 2385.3 L946.7 2379.8 L948.6 2383.7 L951 2379.8 L952.5 2385.3 L952.7 2381.4 L955.2 2378.2 L955.3 2374.3 L956.9 2386.1 L958.4 2388.4 L960 2381.4 L960.8 2388.4 L962.7 2379 L963.9 2390.8 L965.5 2384.5 L967.1 2390.8 L969 2383.7 L971 2381.4 L972.9 2384.5 L972.2 2388.5 L974.1 2391.6 L974.3 2388.3 L977.3 2385.7 L976.9 2382.2 L979.2 2385.2 L977.7 2389.3 L979.6 2392.4 L981.6 2388.4 L982.7 2391.6 L983.2 2388 L985.5 2385.3 L986.7 2392.4 L989 2395.5 L991.4 2397.5" fill="none" stroke="#ff0000" stroke-width="1.75" stroke-linejoin="round"/><path d="M139.8 2398.8 L148.6 2398.8 L153.3 2388.2 L154.5 2353 L156.8 2304.7 L158.5 2312 L161.5 2394.1 L164 2330 L166.8 2277.6 L171.5 2230.6 L174.5 2214 L176.8 2204.7 L180 2203 L184 2170 L188 2160 L192.1 2183.5 L196 2220 L199.8 2245.9 L203.9 2240 L208 2238.8 L211 2180 L213 2120 L215.3 2084.9 L216.8 2222.4 L220.4 2220 L223.9 2276.5 L229.2 2249.4 L232 2190 L234.9 2102.5 L241.8 2111.4 L246.7 2164.3 L251.6 2112.4 L254 2065 L258.4 2090.8 L264.3 2055.5 L272.2 2049.6 L278 2036.9 L280 2100.6 L291.8 2063.3 L295.9 2024.1 L300.3 1975.1 L304.7 2026.1 L306 2005 L308.1 2025.1 L310.6 2006.5 L313.5 1973.1 L317.9 1938.8 L322.4 2016.3 L324.3 1988.8 L328.2 2027.1 L331.2 2027.1 L335.1 1990.8 L338.6 1979.4 L342.5 1913.7 L346 1960 L351.4 1999 L355.3 1957.8 L359.2 1944.1 L364.1 1902.9 L368 1894.1 L372.9 1971.6 L376.9 1912.7 L383.7 1891.2 L387.6 1949 L394.5 2002.9 L401.4 1916.7 L406.3 1928.4 L410 1915 L414 1930 L418 1894.1 L422 1940.2 L426.9 1927.5 L433.7 1961.8 L440.6 1906.9 L446.5 1895.1 L453.3 1863.7 L458.2 1857.8 L464.1 1846.1 L471 1893.1 L474.9 1926.5 L478.8 1939.2 L481.8 1905.9 L488.6 1939.2 L493.5 1916.7 L496.5 1895.1 L502 1886.1 L506.9 1880.2 L510 1895 L513.7 1888 L516.7 1901.8 L519.6 1893.9 L525.5 1905.7 L530 1895 L535.3 1890 L539.2 1901.8 L542.5 1880.2 L546.9 1927.3 L548.8 1914.5 L551.3 1906.7 L554.7 1904.7 L557.2 1915.5 L559.6 1912.5 L565.5 1906.7 L568 1903.6 L568.9 1899.8 L570.4 1939 L570.6 1935.8 L573.5 1933.5 L573.3 1930.2 L574.5 1933.6 L573.3 1937.3 L575.9 1940.5 L574.8 1944.3 L577.1 1947.5 L575.9 1951.2 L578.1 1954.5 L577 1958.2 L578.2 1961.6 L581.2 1957.6 L584.1 1959.6 L585.6 1945.9 L587.9 1947.9 L589 1950.8 L593.4 1953.7 L595.8 1950.5 L595.1 1946 L597.8 1942.9 L600.3 1946.9 L602.3 1940 L603.3 1943.8 L605.7 1946.9 L609.6 1945.9 L611.6 1966.5 L613.7 1969.8 L613.1 1974.1 L615.5 1977.3 L616.5 1987.1 L620.7 1988.4 L623.3 1992 L625.1 1995.4 L629.3 1996.7 L631.2 2000 L635.3 1999.2 L638 1996 L641.5 1998.4 L644.1 2001.8 L644.7 2005.4 L648.3 2007.2 L648.6 2011 L651 2013.5 L652.9 2016.8 L652.5 2020.9 L655.8 2023.7 L655 2027.9 L656.9 2031.2 L658.8 2034.2 L657.5 2038.1 L660.4 2040.8 L659.3 2044.6 L661.2 2047.6 L664.6 2050.1 L667.1 2053.5 L668.5 2056.4 L671.6 2057.9 L672 2061.6 L674.9 2063.3 L678 2062.8 L680.8 2064.3 L682 2067.5 L685.6 2069 L685.8 2073 L688.6 2075.1 L690.6 2077.9 L689.6 2081.7 L693.1 2083.9 L692.3 2087.7 L695.3 2090.1 L694.4 2094 L696.5 2096.7 L699.6 2098.9 L699.4 2103.3 L703.1 2105 L703.1 2109.2 L706.9 2111 L708.2 2114.3 L708.8 2117.7 L712.3 2119.6 L711.9 2123.5 L714.1 2126.1 L717.4 2127.2 L719 2130.6 L722 2132 L724.9 2133.9 L724.8 2138 L727.8 2139.8 L730.4 2142.6 L729.8 2146.9 L733.5 2149.2 L733.2 2153.4 L737 2155.6 L737.6 2159.4 L738.7 2162.8 L742.4 2164.3 L742.5 2168.4 L746.7 2169.5 L747.5 2173.1 L748.2 2176.4 L751.7 2178 L751.6 2181.7 L754.8 2183.5 L755.3 2186.9 L756.3 2190.3 L760.4 2191.5 L760.1 2195.9 L763.8 2197.4 L765.1 2200.6 L766.3 2203.6 L769.9 2204.8 L770.4 2208.4 L772.9 2210.4 L775.6 2212.1 L776.2 2215.6 L779.3 2217 L780.2 2220.3 L782.7 2222.2 L786.1 2224.3 L787 2228.5 L790.7 2230.4 L792.5 2233.9 L793.7 2237 L797.5 2237.9 L797.9 2241.7 L800.4 2243.7 L803.1 2246.2 L804.1 2249.8 L805 2253.2 L808.9 2254.5 L808.6 2258.8 L811.5 2260.8 L815.5 2261.7 L817.6 2265.7 L821.3 2267 L824.4 2268.8 L825.5 2272.6 L829.6 2273.4 L831.1 2276.8 L832.6 2279.9 L836.5 2280.1 L837.9 2283.3 L841.4 2284 L843.3 2286.6 L845.2 2289.6 L848.9 2290.8 L849.9 2294.7 L853.1 2296.4 L855.8 2298.3 L856.7 2301.7 L860 2303.1 L860.6 2306.8 L864.2 2307.9 L865.4 2311.1 L867 2314.1 L871 2313.8 L872.1 2317.4 L875.2 2318.4 L878.5 2320 L879.3 2324.1 L883 2325.3 L885 2328.2 L888.5 2330.2 L892.4 2329.5 L896.3 2330.4 L898.2 2334.7 L902.2 2335.6 L905.4 2336.4 L906.5 2340 L910.1 2340.3 L912 2342.9 L914.2 2346 L918.2 2347.3 L920 2350.8 L923 2349.8 L927.1 2353.1 L928.9 2356.7 L931.8 2359.4 L936.5 2360.2 L938.8 2364.5 L942 2366.9 L945.9 2365.7 L949.8 2366.5 L952.5 2370.4 L955.3 2369.6 L956.9 2375.9 L959.2 2369.6 L961.4 2372.9 L962.4 2376.7 L963.9 2375.1 L965.1 2379 L967.8 2375.9 L970.2 2379.8 L974.9 2380.6 L977.3 2381.4 L979.6 2379 L981.8 2382 L985.1 2383.7 L988.2 2384.5 L991.4 2381.4 L993.4 2383.8 L994.1 2386.9 L997 2384.3 L998.4 2380.6 L1002 2380 L1004.2 2383.3 L1005.1 2387.1 L1008.8 2389.5" fill="none" stroke="#00ff00" stroke-width="1.75" stroke-linejoin="round"/><path d="M139.8 2398.8 L148.6 2398.8 L153.3 2388.2 L154.5 2353 L156.8 2304.7 L158.5 2310 L162.1 2383.5 L166.8 2277.6 L171.5 2230.6 L174.5 2216.5 L178 2207.1 L181.5 2209.4 L184.5 2180 L188.6 2155 L189.8 2150.6 L192.7 2181 L195.1 2187.1 L199.2 2265.9 L202.1 2256.5 L208.6 2228.2 L212.1 2160 L218.2 2086.9 L223.1 2165.3 L229 2181 L232.1 2150 L237 2110 L244.7 2060.4 L250.6 2106.5 L254.1 2032 L258 2080 L264.3 2118.2 L272.2 2014.3 L276 2014 L280 2022 L282.9 2053.5 L288 2000 L292.9 1952.5 L297.8 2003.5 L302.7 2014.3 L308.6 1967.3 L313 1942.7 L317.5 1992.7 L319.4 1975.1 L324.3 1939.8 L325.9 1920.6 L331.8 1904.9 L335.7 1852 L338.6 1848 L341.6 1893.1 L346.5 1902.9 L351.4 1895.1 L361.2 1940.2 L368 1935.3 L372.9 1867.6 L378.8 1810.8 L382.7 1802.9 L387.6 1855.9 L390 1838 L393.5 1846.1 L404.3 1891.2 L416.1 1830.4 L420 1826.5 L423.9 1857.8 L426.9 1818.6 L430.8 1801 L436.7 1836.3 L441.6 1817.6 L450.4 1859.8 L455.3 1844.1 L460.2 1828.4 L464.1 1814.7 L468 1811.8 L472 1825 L476.9 1797.1 L480.8 1791.2 L483.7 1825.5 L488.6 1801 L493.5 1824.5 L500 1819.4 L504.9 1804.7 L508.8 1833.1 L514.7 1815.5 L519.6 1807.6 L523.9 1799.8 L529.4 1820.4 L536.3 1815.5 L543.1 1827.3 L545.9 1840 L551.8 1854.7 L555.7 1843.9 L557.6 1844.9 L559.6 1840 L563.5 1845.9 L566.5 1853.7 L569.4 1857.6 L571.5 1854.5 L571.9 1850.8 L574.3 1857.6 L577.7 1860.6 L579.2 1863.5 L578.1 1867.1 L580.6 1869.7 L579.7 1873.3 L582.4 1875.9 L582.2 1879.2 L582.1 1882.8 L584.4 1886.1 L583.3 1889.9 L585.5 1893.2 L585.1 1896.9 L587.6 1899.9 L591 1901.8 L593.4 1901.8 L596.4 1904.7 L598.1 1907.6 L597.6 1911.2 L600.8 1913.6 L599.9 1917.3 L602.4 1919.9 L602.7 1923.3 L604.8 1927.1 L608.6 1929.2 L611.6 1931.2 L614.8 1933.9 L615.5 1938 L615.4 1941.3 L618.4 1943.6 L617.1 1947.3 L620.1 1949.5 L620.4 1952.7 L619.8 1956.5 L622.7 1959.6 L621.8 1963.4 L623.9 1966.6 L623 1970.4 L625.9 1973.5 L625.3 1977.3 L626.6 1980.9 L630.2 1983.1 L630.2 1987.4 L633.1 1990 L635.2 1992.8 L634.6 1996.8 L637.5 1999.3 L637.5 2003 L640.1 2005.6 L639.5 2009.6 L642.8 2012 L643.1 2015.5 L645.2 2018.2 L649 2018.5 L651 2021.4 L650.9 2024.9 L653.6 2027.5 L652.5 2031.3 L655.8 2033.8 L654.7 2037.6 L657.5 2040.2 L657.3 2043.7 L657.2 2047.4 L660.6 2050.2 L659 2054.4 L661.2 2057.5 L663.5 2060.6 L662.8 2064.9 L666.3 2067.5 L667.1 2071.2 L667.9 2074.3 L671.4 2075.7 L672 2079 L672.5 2082.2 L675.4 2084.5 L675.1 2088.1 L676.9 2090.8 L679.2 2093.3 L678 2097.1 L681.4 2099.2 L680.3 2103.1 L682.7 2105.5 L685.3 2107.2 L685.7 2110.9 L688.6 2112.4 L691.5 2114.3 L691.6 2118.3 L694.5 2120.2 L696.6 2123 L695.6 2126.9 L699.4 2129.1 L698.3 2133.1 L700.4 2135.9 L702.9 2138.3 L702.7 2142.1 L705.9 2144.1 L706.3 2147.6 L706.5 2150.8 L710.2 2152.2 L710.2 2155.5 L710.6 2159.2 L714.1 2161.4 L714 2165.3 L717.5 2167.5 L718 2171.2 L718.7 2174.4 L721.6 2176.6 L721.2 2180.3 L723.9 2182.6 L724 2186.1 L725.9 2188.8 L729.1 2189 L730.8 2192.1 L733.7 2192.7 L736.3 2195.2 L737.6 2198.6 L739.1 2202.1 L743.1 2203.7 L743.7 2207.9 L746.5 2210.4 L749 2212.3 L749 2215.9 L752.7 2217 L753.3 2220.2 L754.1 2224.1 L758.4 2226 L759.2 2230 L760.4 2233.7 L764 2236 L765.1 2239.8 L765.7 2243.2 L769.2 2245.2 L768.1 2249.4 L771.5 2251.4 L772.3 2254.7 L774.2 2257.7 L777.8 2259 L779.1 2262.6 L782.1 2264.5 L784.8 2267 L784.8 2271.2 L788.3 2273.3 L789.4 2276.8 L791.5 2279.3 L795 2280.1 L796.8 2282.9 L798.6 2285.7 L802.4 2286.1 L804.1 2289 L805.5 2292.5 L809.9 2293 L810.7 2297.1 L813.9 2298.8 L816.7 2300.6 L816.6 2304.4 L820 2305.7 L821.3 2308.6 L822.7 2312 L827.1 2312.6 L828.6 2316 L829.1 2319.2 L832.9 2320.1 L833.5 2323.3 L836.2 2326.5 L840 2328.2 L842.1 2331.1 L841.7 2335 L843.5 2338 L846.2 2335.3 L849 2338.3 L849.7 2342.4 L852.7 2341.2 L855 2338.8 L856.8 2344.1 L859.9 2346 L862.1 2349 L864.4 2346.3 L865.2 2342.8 L866.9 2346 L866.3 2349.9 L868.2 2353 L872.7 2351.2 L877.1 2353 L879 2355.6 L879.7 2358.7 L883.2 2358.7 L885.9 2363.1 L889.4 2365.3 L890.7 2368.1 L893 2370.2 L895.6 2367.1 L898.3 2365.3 L900 2372.4 L901.5 2370 L903.5 2373.2 L903.4 2377.1 L905.3 2380.3 L907.5 2372.4 L909.7 2378.6 L912.4 2375.5 L915.4 2374.3 L918.6 2375 L920 2375.9 L921 2379.7 L923.1 2382.9 L923.3 2379.6 L925.9 2377.5 L925.6 2380.9 L928.2 2383.6 L927.4 2387.1 L929 2390 L931.8 2386.5 L934.9 2385.7 L936.9 2387.6 L939.2 2383.7 L941.2 2385.3 L943.5 2390.8 L945.1 2397.1" fill="none" stroke="#0000ff" stroke-width="1.75" stroke-linejoin="round"/></g>
</svg></body></html>
